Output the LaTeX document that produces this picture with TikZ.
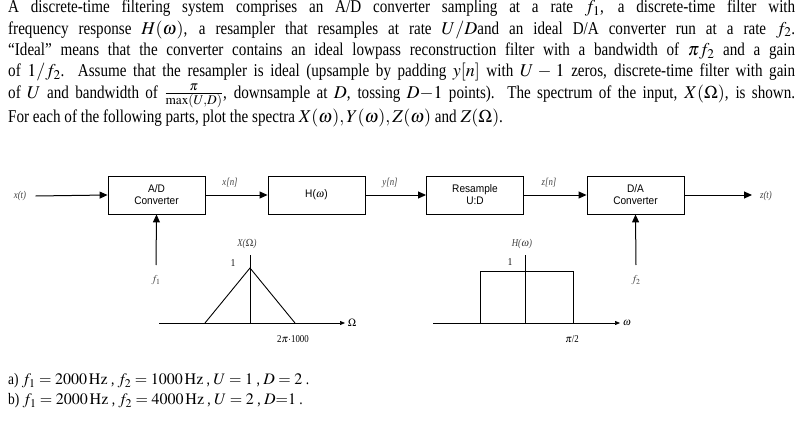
\documentclass[tikz,border=0pt]{standalone}
\usepackage{mathptmx}
\usepackage[no-math]{fontspec}
\setmainfont{Liberation Serif}[FakeStretch=0.84]
\newfontfamily\arialf{Liberation Sans}[FakeStretch=0.92]
\usetikzlibrary{arrows.meta}
\begin{document}
\begin{tikzpicture}[x=1pt,y=-1pt,
  blk/.style={draw,line width=0.9pt,minimum width=97pt,minimum height=38pt,font=\arialf\fontsize{11}{12}\selectfont,align=center},
  sig/.style={line width=1pt,-{Triangle[length=8pt,width=7pt]}},
  lab/.style={font=\fontsize{10.5}{10}\selectfont\itshape,text=black!75},
  ax/.style={line width=0.7pt,-{Triangle[length=5pt,width=4pt]}}]
\useasboundingbox (0,0) rectangle (807,423);
\node[anchor=north west,inner sep=0,text width=787pt,align=justify,font=\fontsize{18}{21.3}\selectfont] (txt) at (8,0) {%
A discrete-time filtering system comprises an A/D converter sampling at a rate $f_1$, a discrete-time filter with\linebreak
frequency response $H(\omega)$, a resampler that resamples at rate $U/D$and an ideal D/A converter run at a rate $f_2$.\linebreak
``Ideal'' means that the converter contains an ideal lowpass reconstruction filter with a bandwidth of $\pi f_2$ and a gain\linebreak
of $1/f_2$. Assume that the resampler is ideal (upsample by padding $y[n]$ with $U-1$ zeros, discrete-time filter with gain\linebreak
of $U$ and bandwidth of $\frac{\pi}{\max(U,D)}$, downsample at $D$, tossing $D{-}1$ points). The spectrum of the input, $X(\Omega)$, is shown.\linebreak
For each of the following parts, plot the spectra $X(\omega),Y(\omega),Z(\omega)$ and $Z(\Omega)$.};
\node[blk] (ad) at (156.5,195) {A/D\\Converter};
\node[blk] (h) at (316.5,195) {H($\omega$)};
\node[blk] (rs) at (475,195) {Resample\\U:D};
\node[blk] (da) at (635.5,195) {D/A\\Converter};
\node[lab] (xt) at (20,196) {x(t)};
\node[lab] (zt) at (766,196) {z(t)};
\coordinate (zte) at (752,195);
\draw[sig] (xt.east) ++(6,0) coordinate (xs) -- (ad.west);
\draw[sig] (ad) -- (h);
\draw[sig] (h) -- (rs);
\draw[sig] (rs) -- (da);
\draw[sig] (da) -- (zte);
\node[lab] (xn) at (230,183) {x[n]};
\node[lab] (yn) at (390,183) {y[n]};
\node[lab] (zn) at (549,183) {z[n]};
\node[lab] (f1) at (156,280) {$f_1$};
\node[lab] (f2) at (636,280) {$f_2$};
\coordinate (f1s) at (156,265);
\coordinate (f2s) at (636,265);
\draw[sig] (f1s) -- (ad.south);
\draw[sig] (f2s) -- (da.south);
% X plot
\coordinate (xa0) at (159,323); \coordinate (xa1) at (345,323);
\draw[ax] (xa0) -- (xa1);
\node[font=\fontsize{11}{11}\selectfont] (om1) at (352,323) {$\Omega$};
\draw[line width=0.9pt] (205,323) -- (250,268) -- (295,323);
\draw[line width=0.7pt] (250,323) -- (250,255);
\node[lab] (xo) at (247,244) {X($\Omega$)};
\node[font=\fontsize{10.5}{10}\selectfont] (one1) at (233,263) {1};
\node[font=\fontsize{10.5}{10}\selectfont] (tk1) at (293,339) {2$\pi$$\cdot$1000};
% H plot
\coordinate (ha0) at (433,323); \coordinate (ha1) at (620,323);
\draw[ax] (ha0) -- (ha1);
\node[font=\fontsize{10.5}{10}\selectfont] (om2) at (627,323) {$\omega$};
\draw[line width=0.7pt] (480,323) -- (480,271) -- (573,271) -- (573,323);
\draw[line width=0.7pt] (525,323) -- (525,255);
\node[lab] (ho) at (522,244) {H($\omega$)};
\node[font=\fontsize{10.5}{10}\selectfont] (one2) at (510,262) {1};
\node[font=\fontsize{10.5}{10}\selectfont] (tk2) at (572,339) {$\pi$/2};
\node[anchor=west,inner sep=0,font=\fontsize{16}{18}\selectfont] (pa) at (8,381) {a) $f_1=2000\,\mathrm{Hz}$ , $f_2=1000\,\mathrm{Hz}$ , $U=1$ , $D=2$ .};
\node[anchor=west,inner sep=0,font=\fontsize{16}{18}\selectfont] (pb) at (8,401) {b) $f_1=2000\,\mathrm{Hz}$ , $f_2=4000\,\mathrm{Hz}$ , $U=2$ , $D{=}1$ .};
\end{tikzpicture}
\end{document}
